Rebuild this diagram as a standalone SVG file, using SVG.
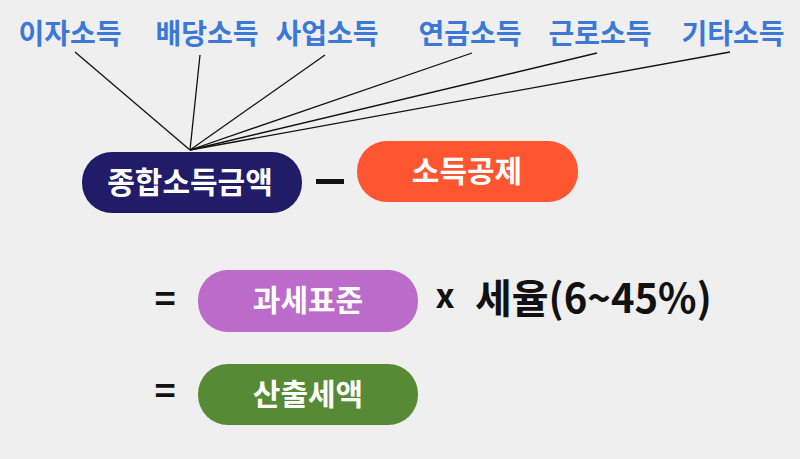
<svg xmlns="http://www.w3.org/2000/svg" width="800" height="459" viewBox="0 0 800 459">
<style>
.lab{font-family:"Noto Sans CJK KR","Noto Sans",sans-serif;font-weight:bold;font-size:28px;fill:#3b78d8;text-anchor:middle}
.pt{font-family:"Noto Sans CJK KR","Noto Sans",sans-serif;font-weight:bold;font-size:30px;fill:#fff;text-anchor:middle}
.bk{font-family:"Noto Sans CJK KR","Noto Sans",sans-serif;font-weight:bold;fill:#111}
line{stroke:#111;stroke-width:1.3}
</style>
<rect width="800" height="459" fill="#efefef"/>
<g id="labels">
<text class="lab" x="70" y="44">이자소득</text>
<text class="lab" x="207" y="44">배당소득</text>
<text class="lab" x="327" y="44">사업소득</text>
<text class="lab" x="470" y="44">연금소득</text>
<text class="lab" x="600" y="44">근로소득</text>
<text class="lab" x="733" y="44">기타소득</text>
</g>
<g id="connectors">
<line x1="190" y1="150" x2="75" y2="52"/>
<line x1="190" y1="150" x2="200" y2="55"/>
<line x1="190" y1="150" x2="325" y2="55"/>
<line x1="190" y1="150" x2="472" y2="53"/>
<line x1="190" y1="150" x2="597" y2="53"/>
<line x1="190" y1="150" x2="730" y2="52"/>
</g>
<g id="gross"><rect x="82" y="152" width="220" height="61" rx="30" fill="#211c68"/><text class="pt" x="190" y="193">종합소득금액</text></g>
<rect x="316" y="179" width="28" height="5" fill="#111"/>
<g id="deduct"><rect x="357" y="141" width="221" height="61" rx="30" fill="#ff5531"/><text class="pt" x="467" y="182">소득공제</text></g>
<text class="bk" x="165" y="312" font-size="36" text-anchor="middle">=</text>
<g id="base"><rect x="198" y="270" width="220" height="62" rx="30" fill="#bb6bc9"/><text class="pt" x="308" y="311">과세표준</text></g>
<text class="bk" x="445" y="308" font-size="34" text-anchor="middle">x</text>
<text class="bk" x="475" y="313" font-size="40">세율(6~45%)</text>
<text class="bk" x="165" y="404" font-size="36" text-anchor="middle">=</text>
<g id="tax"><rect x="198" y="364" width="220" height="61" rx="30" fill="#578a35"/><text class="pt" x="308" y="405">산출세액</text></g>
</svg>
